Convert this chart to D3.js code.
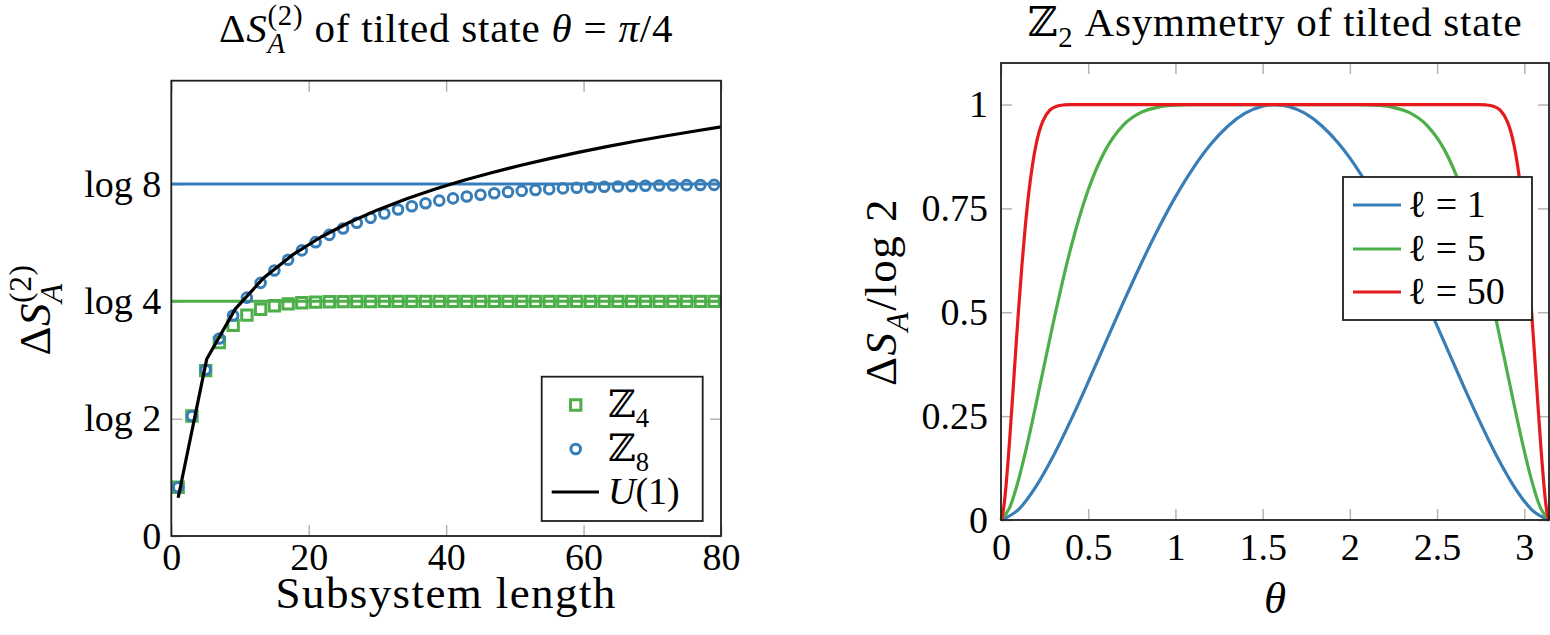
<!DOCTYPE html>
<html>
<head>
<meta charset="utf-8">
<script src="https://cdn.jsdelivr.net/npm/d3@7"></script>
<style>
  body { margin: 0; background: #fff; }
  svg, svg text, svg tspan { font-family: "Liberation Serif", "Times New Roman", Times, "DejaVu Serif", serif; }
</style>
</head>
<body>
<svg id="chart" width="1550" height="635"></svg>
<script>
/* DATA : left panel */
const ellOdd = [1,3,5,7,9,11,13,15,17,19,21,23,25,27,29,31,33,35,37,39,
  41,43,45,47,49,51,53,55,57,59,61,63,65,67,69,71,73,75,77,79];
const z4Values = [0.2877,0.7089,0.9769,1.1435,1.2446,1.3047,1.3398,1.3600,1.3714,1.3779,
  1.3816,1.3836,1.3848,1.3854,1.3858,1.3860,1.3861,1.3862,1.3862,1.3862,
  1.3863,1.3863,1.3863,1.3863,1.3863,1.3863,1.3863,1.3863,1.3863,1.3863,
  1.3863,1.3863,1.3863,1.3863,1.3863,1.3863,1.3863,1.3863,1.3863,1.3863];
const z8Values = [0.2877,0.7089,0.9818,1.1672,1.3027,1.4086,1.4954,1.5687,1.6320,1.6873,
  1.7360,1.7789,1.8168,1.8503,1.8798,1.9058,1.9286,1.9486,1.9661,1.9813,
  1.9946,2.0062,2.0162,2.0249,2.0324,2.0389,2.0445,2.0494,2.0536,2.0572,
  2.0603,2.0630,2.0653,2.0673,2.0690,2.0704,2.0717,2.0728,2.0737,2.0745];
const u1Ell = [1,5.16,9.32,13.47,17.63,21.79,25.95,30.11,34.26,38.42,
  42.58,46.74,50.89,55.05,59.21,63.37,67.53,71.68,75.84,80];
const u1Values = [0.2258,1.0461,1.3417,1.5262,1.6607,1.7665,1.8539,1.9281,1.9928,2.0501,
  2.1015,2.1481,2.1907,2.2299,2.2664,2.3003,2.3320,2.3619,2.3901,2.4168];
const limitValues = [1.3863, 2.0794]; // log 4, log 8
const leftXTicks = [0, 20, 40, 60, 80];
const leftYTicks = [0, 0.6931, 1.3863, 2.0794];
const leftYTickLabels = ["0", "log 2", "log 4", "log 8"];

/* DATA : right panel */
const blueTheta = [0,0.1,0.2,0.3,0.4,0.5,0.6,0.7,0.8,0.9,1.0,1.1,1.2,1.3,1.4,1.5,1.5708,
  1.6416,1.7416,1.8416,1.9416,2.0416,2.1416,2.2416,2.3416,2.4416,2.5416,2.6416,2.7416,2.8416,2.9416,3.0416,3.1416];
const blueValues = [0,0.0252,0.0806,0.1543,0.2399,0.3322,0.4275,0.5224,0.6139,0.6998,0.7778,0.8460,0.9031,0.9478,0.9791,0.9962,1,
  0.9962,0.9791,0.9478,0.9031,0.8460,0.7778,0.6998,0.6139,0.5224,0.4275,0.3322,0.2399,0.1543,0.0806,0.0252,0];
const greenTheta = [0,0.05,0.1,0.15,0.2,0.25,0.3,0.35,0.4,0.45,0.5,0.6,0.7,0.8,0.9,1.0,1.1,1.2,1.5708,
  1.9416,2.0416,2.1416,2.2416,2.3416,2.4416,2.5416,2.6416,2.6916,2.7416,2.7916,2.8416,2.8916,2.9416,2.9916,3.0416,3.0916,3.1416];
const greenValues = [0,0.0304,0.0961,0.1814,0.2773,0.3771,0.4757,0.5690,0.6544,0.7299,0.7946,0.8915,0.9501,0.9805,0.9936,0.9985,0.9997,1,1,
  1,0.9997,0.9985,0.9936,0.9805,0.9501,0.8915,0.7946,0.7299,0.6544,0.5690,0.4757,0.3771,0.2773,0.1814,0.0961,0.0304,0];
const redTheta = [0,0.01,0.02,0.03,0.04,0.05,0.06,0.08,0.10,0.12,0.14,0.16,0.18,0.20,0.22,0.24,0.28,0.32,0.36,0.4,0.5,1.5708,
  2.6416,2.7416,2.7816,2.8216,2.8616,2.9016,2.9216,2.9416,2.9616,2.9816,3.0016,3.0216,3.0416,3.0616,3.0816,3.0916,3.1016,3.1116,3.1216,3.1316,3.1416];
const redValues = [0,0.0138,0.0452,0.0882,0.1393,0.1959,0.2561,0.3807,0.5022,0.6135,0.7101,0.7902,0.8534,0.9014,0.9362,0.9603,0.9864,0.9961,0.9990,0.9998,1,1,
  1,0.9998,0.9990,0.9961,0.9864,0.9603,0.9362,0.9014,0.8534,0.7902,0.7101,0.6135,0.5022,0.3807,0.2561,0.1959,0.1393,0.0882,0.0452,0.0138,0];
const rightXTicks = [0, 0.5, 1, 1.5, 2, 2.5, 3];
const rightXTickLabels = ["0", "0.5", "1", "1.5", "2", "2.5", "3"];
const rightYTicks = [0, 0.25, 0.5, 0.75, 1];
const rightYTickLabels = ["0", "0.25", "0.5", "0.75", "1"];
const ellNames = ["\u2113 = 1", "\u2113 = 5", "\u2113 = 50"];

/* STYLE */
const serif = "'Liberation Serif', 'Times New Roman', Times, 'DejaVu Serif', serif";
const blue = "#377eb8", green = "#4daf4a", red = "#e41a1c";
const tickColor = "#b4b4b4", frameColor = "#1f1f1f";
const tickFont = 38, labelFont = 45, titleFont = 41, legendFont = 38;

const svg = d3.select("#chart").attr("font-family", serif);

// text with sub / superscripts built from tspans
function mathText(parent, pieces, size, spacing) {
  const text = parent.append("text").attr("font-size", size).attr("font-family", serif).attr("fill", "#000");
  if (spacing) text.attr("letter-spacing", spacing);
  let off = 0, prevW = 0, pendingDx = 0;
  pieces.forEach(p => {
    const shift = p.pos === "sup" ? -0.42 * size : p.pos === "sub" ? 0.26 * size : 0;
    const ts = text.append("tspan")
      .attr("font-size", p.pos ? size * 0.7 : size)
      .attr("font-style", p.it ? "italic" : "normal")
      .attr("dy", shift - off)
      .text(p.s);
    let dx = pendingDx;
    pendingDx = 0;
    if (p.stack) dx = -prevW;
    if (dx) ts.attr("dx", dx);
    const w = ts.node().getComputedTextLength();
    if (p.stack) pendingDx = Math.max(0, prevW - w);
    prevW = w;
    off = shift;
  });
  return text;
}

function centeredText(pieces, size, cx, baseline, rotate, spacing) {
  const outer = svg.append("g")
    .attr("transform", `translate(${cx},${baseline}) rotate(${rotate || 0})`);
  const inner = outer.append("g");
  const t = mathText(inner, pieces, size, spacing);
  const b = t.node().getBBox();
  inner.attr("transform", `translate(${-(b.x + b.width / 2)},0)`);
}

function styleAxis(g, fontSize) {
  g.attr("font-size", null).attr("font-family", serif);
  g.select(".domain").remove();
  g.selectAll(".tick line").attr("stroke", tickColor).attr("stroke-width", 1.5);
  g.selectAll(".tick text").attr("font-size", fontSize).attr("font-family", serif).attr("fill", "#000");
}

/* LEFT PANEL */
const L = { left: 171.3, right: 721, top: 80.7, bottom: 536 };
const x1 = d3.scaleLinear().domain([0, 80]).range([L.left, L.right]);
const y1 = d3.scaleLinear().domain([0, 2.69]).range([L.bottom, L.top]);

styleAxis(svg.append("g").attr("transform", `translate(0,${L.bottom})`)
  .call(d3.axisBottom(x1).tickValues(leftXTicks).tickSizeInner(-11).tickSizeOuter(0).tickPadding(7)), tickFont);
styleAxis(svg.append("g").attr("transform", `translate(0,${L.top})`)
  .call(d3.axisTop(x1).tickValues(leftXTicks).tickSizeInner(-11).tickSizeOuter(0).tickFormat("")), tickFont);
styleAxis(svg.append("g").attr("transform", `translate(${L.left},0)`)
  .call(d3.axisLeft(y1).tickValues(leftYTicks).tickSizeInner(-11).tickSizeOuter(0).tickPadding(10)
    .tickFormat((d, i) => leftYTickLabels[i])), tickFont);
styleAxis(svg.append("g").attr("transform", `translate(${L.right},0)`)
  .call(d3.axisRight(y1).tickValues(leftYTicks).tickSizeInner(-11).tickSizeOuter(0).tickFormat("")), tickFont);

svg.selectAll(".limit")
  .data(limitValues)
  .join("line")
  .attr("class", "limit")
  .attr("x1", x1(0)).attr("x2", x1(80))
  .attr("y1", d => y1(d)).attr("y2", d => y1(d))
  .attr("stroke", (d, i) => i === 0 ? green : blue)
  .attr("stroke-width", 3);

const squareSym = d3.symbol().type(d3.symbolSquare).size(108);
svg.selectAll(".z4")
  .data(ellOdd.map((l, i) => ({ l, v: z4Values[i] })))
  .join("path")
  .attr("class", "z4")
  .attr("transform", d => `translate(${x1(d.l)},${y1(d.v)})`)
  .attr("d", squareSym)
  .attr("fill", "none").attr("stroke", green).attr("stroke-width", 3);

svg.selectAll(".z8")
  .data(ellOdd.map((l, i) => ({ l, v: z8Values[i] })))
  .join("circle")
  .attr("class", "z8")
  .attr("cx", d => x1(d.l)).attr("cy", d => y1(d.v)).attr("r", 4.8)
  .attr("fill", "none").attr("stroke", blue).attr("stroke-width", 3);

const u1Line = d3.line().x(d => x1(d.l)).y(d => y1(d.v));
svg.append("path")
  .datum(u1Ell.map((l, i) => ({ l, v: u1Values[i] })))
  .attr("d", u1Line)
  .attr("fill", "none").attr("stroke", "#000").attr("stroke-width", 3.2)
  .attr("stroke-linejoin", "round");

svg.append("rect")
  .attr("x", L.left).attr("y", L.top)
  .attr("width", L.right - L.left).attr("height", L.bottom - L.top)
  .attr("fill", "none").attr("stroke", frameColor).attr("stroke-width", 1.8);

// left legend
const leg1 = svg.append("g");
leg1.append("rect").attr("x", 541.7).attr("y", 376.7).attr("width", 161).attr("height", 144.3)
  .attr("fill", "#fff").attr("stroke", frameColor).attr("stroke-width", 1.8);
const leg1Rows = [405, 449, 492];
leg1.append("path").attr("transform", `translate(575.7,${leg1Rows[0]})`).attr("d", squareSym)
  .attr("fill", "none").attr("stroke", green).attr("stroke-width", 3);
leg1.append("circle").attr("cx", 575.7).attr("cy", leg1Rows[1]).attr("r", 4.8)
  .attr("fill", "none").attr("stroke", blue).attr("stroke-width", 3);
leg1.append("line").attr("x1", 551.7).attr("x2", 599).attr("y1", leg1Rows[2]).attr("y2", leg1Rows[2])
  .attr("stroke", "#000").attr("stroke-width", 3.2);
const leg1Labels = [
  [{ s: "\u2124" }, { s: "4", pos: "sub" }],
  [{ s: "\u2124" }, { s: "8", pos: "sub" }],
  [{ s: "U", it: true }, { s: "(1)" }]
];
leg1Labels.forEach((p, i) => {
  mathText(leg1.append("g").attr("transform", `translate(608,${leg1Rows[i] + 12})`), p, legendFont);
});

/* RIGHT PANEL */
const R = { left: 1001, right: 1549, top: 63, bottom: 520 };
const x2 = d3.scaleLinear().domain([0, 3.1416]).range([R.left, R.right]);
const y2 = d3.scaleLinear().domain([0, 1.1]).range([R.bottom, R.top]);

styleAxis(svg.append("g").attr("transform", `translate(0,${R.bottom})`)
  .call(d3.axisBottom(x2).tickValues(rightXTicks).tickSizeInner(-11).tickSizeOuter(0).tickPadding(13)
    .tickFormat((d, i) => rightXTickLabels[i])), tickFont);
styleAxis(svg.append("g").attr("transform", `translate(0,${R.top})`)
  .call(d3.axisTop(x2).tickValues(rightXTicks).tickSizeInner(-11).tickSizeOuter(0).tickFormat("")), tickFont);
styleAxis(svg.append("g").attr("transform", `translate(${R.left},0)`)
  .call(d3.axisLeft(y2).tickValues(rightYTicks).tickSizeInner(-11).tickSizeOuter(0).tickPadding(13)
    .tickFormat((d, i) => rightYTickLabels[i])), tickFont);
styleAxis(svg.append("g").attr("transform", `translate(${R.right},0)`)
  .call(d3.axisRight(y2).tickValues(rightYTicks).tickSizeInner(-11).tickSizeOuter(0).tickFormat("")), tickFont);

const curve = d3.line().x(d => x2(d.t)).y(d => y2(d.v)).curve(d3.curveMonotoneX);
const rightSeries = [
  { theta: blueTheta, values: blueValues, color: blue },
  { theta: greenTheta, values: greenValues, color: green },
  { theta: redTheta, values: redValues, color: red }
];
svg.selectAll(".ell")
  .data(rightSeries)
  .join("path")
  .attr("class", "ell")
  .attr("d", s => curve(s.theta.map((t, i) => ({ t, v: s.values[i] }))))
  .attr("fill", "none").attr("stroke", s => s.color).attr("stroke-width", 3.2);

svg.append("rect")
  .attr("x", R.left).attr("y", R.top)
  .attr("width", R.right - R.left).attr("height", R.bottom - R.top)
  .attr("fill", "none").attr("stroke", frameColor).attr("stroke-width", 1.8);

// right legend
const leg2 = svg.append("g");
leg2.append("rect").attr("x", 1343).attr("y", 177).attr("width", 189).attr("height", 143)
  .attr("fill", "#fff").attr("stroke", frameColor).attr("stroke-width", 1.8);
const leg2Rows = [205, 249, 292];
rightSeries.forEach((s, i) => {
  leg2.append("line").attr("x1", 1353).attr("x2", 1401).attr("y1", leg2Rows[i]).attr("y2", leg2Rows[i])
    .attr("stroke", s.color).attr("stroke-width", 3.2);
  mathText(leg2.append("g").attr("transform", `translate(1408,${leg2Rows[i] + 12})`),
    [{ s: ellNames[i] }], legendFont);
});

/* TITLES AND AXIS LABELS */
centeredText([{ s: "\u0394" }, { s: "S", it: true }, { s: "(2)", pos: "sup" }, { s: "A", it: true, pos: "sub", stack: true },
  { s: "\u00a0of tilted state\u00a0" }, { s: "\u03b8", it: true }, { s: "\u00a0=\u00a0" }, { s: "\u03c0", it: true }, { s: "/4" }],
  titleFont, (L.left + L.right) / 2, 42, 0, 0.8);
centeredText([{ s: "\u2124" }, { s: "2", pos: "sub" }, { s: "\u00a0Asymmetry of tilted state" }],
  titleFont, (R.left + R.right) / 2, 36, 0, 0.8);
centeredText([{ s: "Subsystem length" }], labelFont, (L.left + L.right) / 2, 608, 0, 1.4);
centeredText([{ s: "\u03b8", it: true }], labelFont, (R.left + R.right) / 2, 613, 0);
centeredText([{ s: "\u0394" }, { s: "S", it: true }, { s: "(2)", pos: "sup" }, { s: "A", it: true, pos: "sub", stack: true }],
  labelFont, 50, 310, -90, 0.6);
centeredText([{ s: "\u0394" }, { s: "S", it: true }, { s: "A", it: true, pos: "sub" }, { s: "/log 2" }],
  labelFont, 896, 292, -90, 1.5);
</script>
</body>
</html>
